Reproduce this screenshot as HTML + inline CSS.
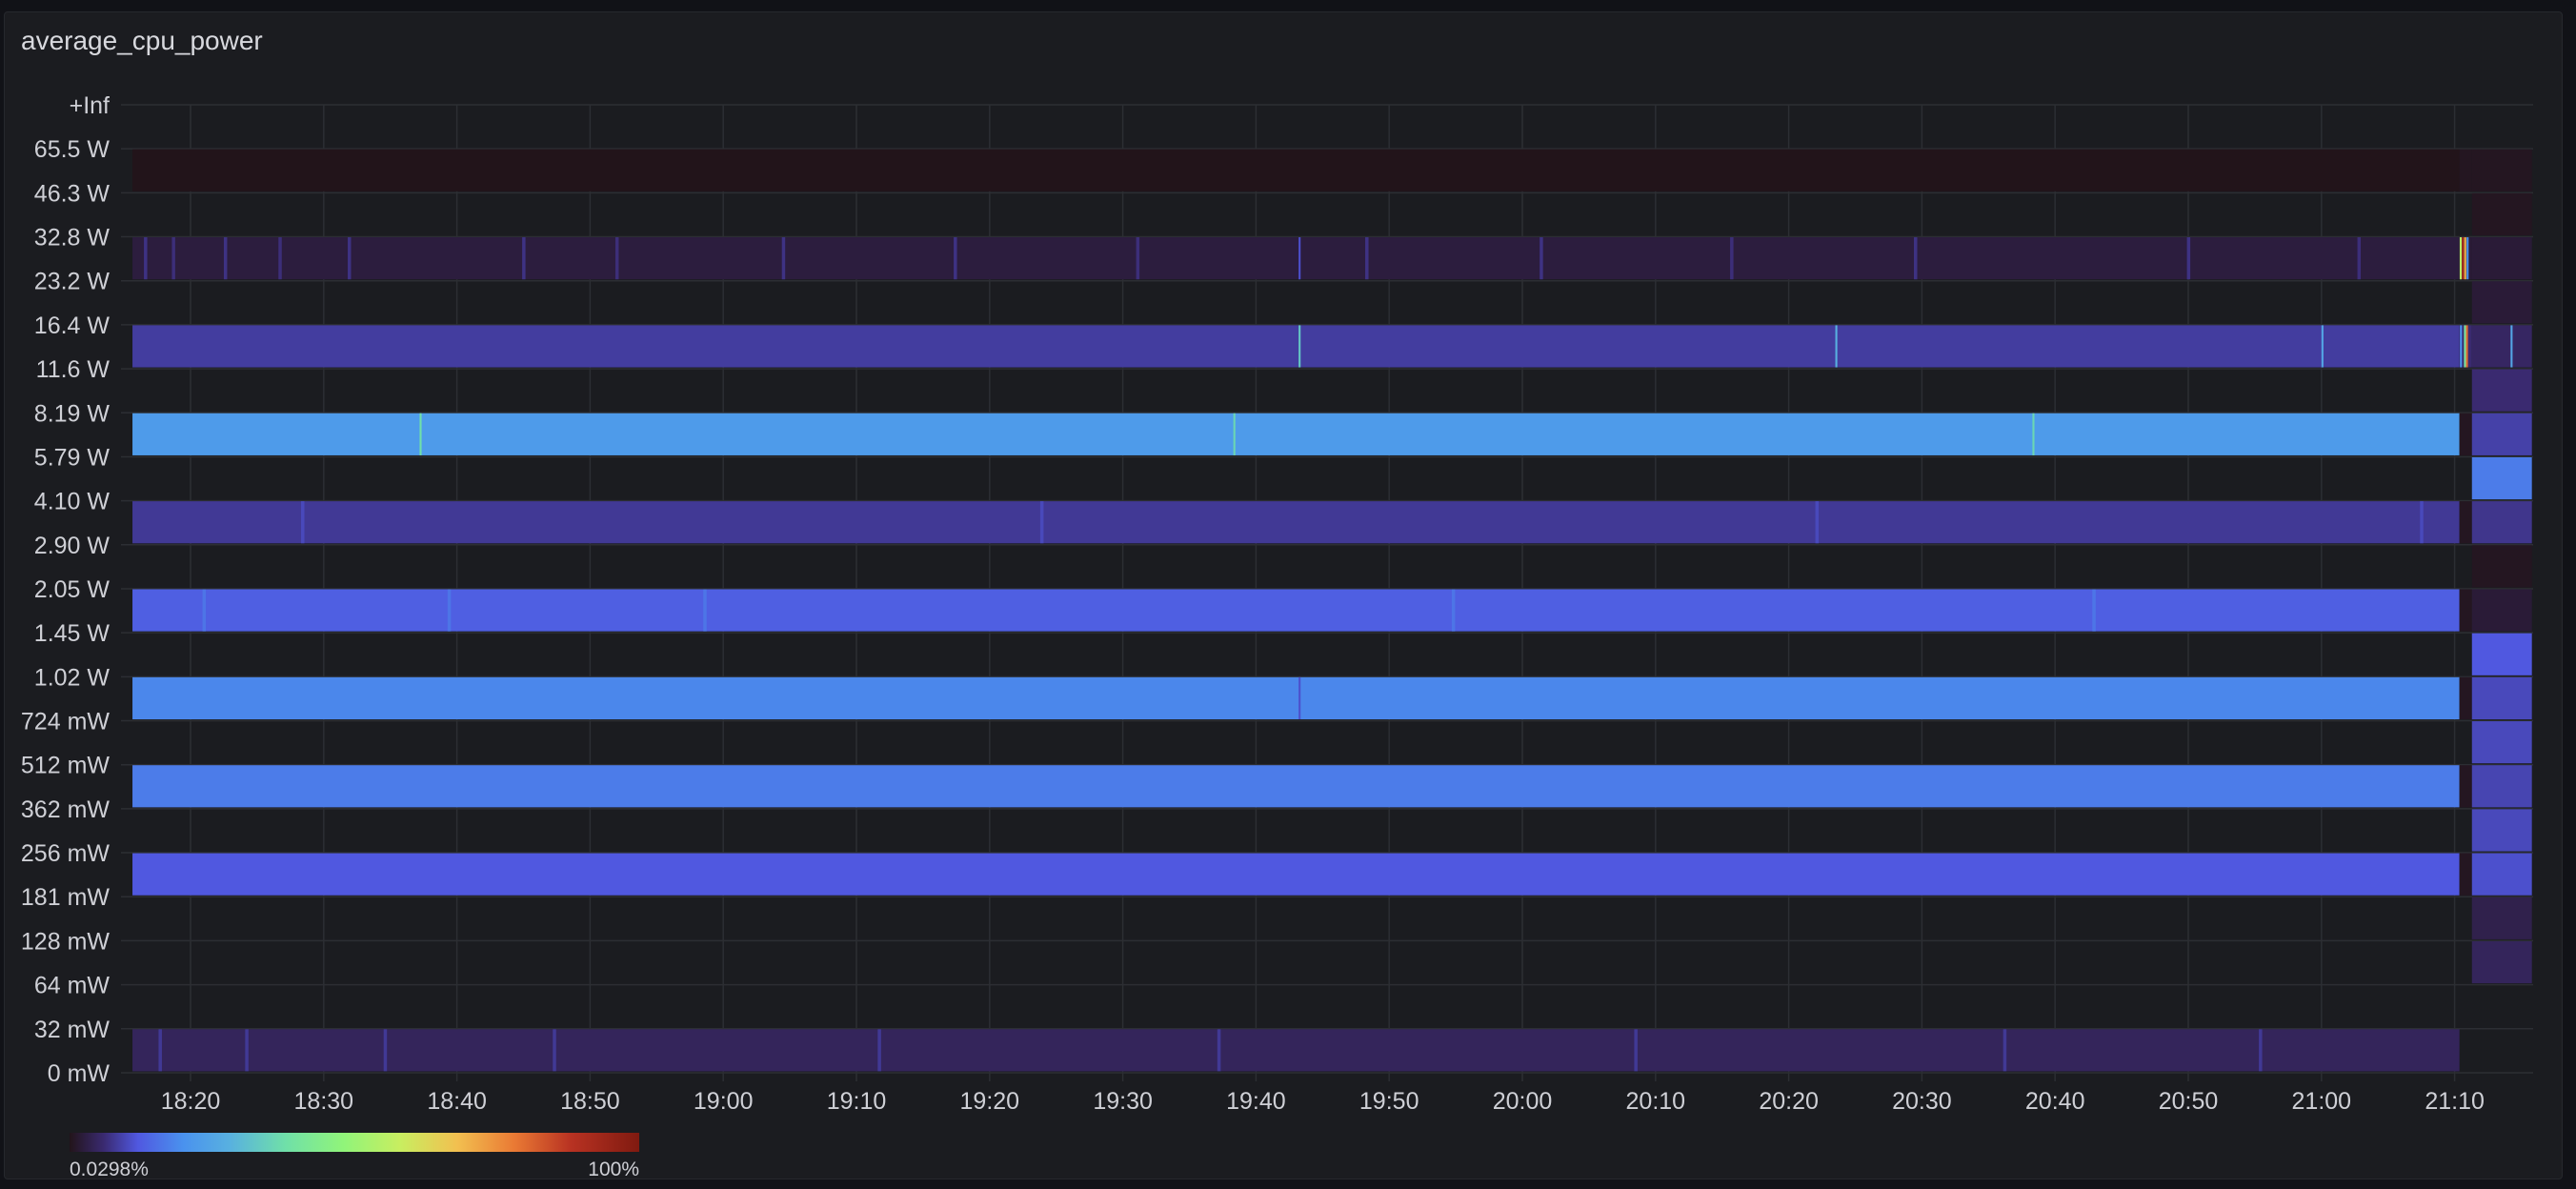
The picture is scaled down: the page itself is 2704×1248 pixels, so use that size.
<!DOCTYPE html>
<html><head><meta charset="utf-8"><style>
html,body{margin:0;padding:0;background:#111217;}
#wrap{position:relative;width:2704px;height:1248px;overflow:hidden;background:#111217;}
#panel{position:absolute;left:4px;top:12px;width:2686px;height:1226px;background:#1b1c20;border:1px solid #26282d;border-radius:4px;box-sizing:border-box;}
#title{position:absolute;left:22px;top:27px;font:500 28px "Liberation Sans",sans-serif;color:#d8d9de;}
svg{position:absolute;left:0;top:0;}
text{font-family:"Liberation Sans",sans-serif;fill:#cfd0d6;}
</style></head><body>
<div id="wrap">
<div id="panel"></div>
<div id="title">average_cpu_power</div>
<svg id="chart" width="2704" height="1248"></svg>
</div>
<script>
// ---- data ----
const yLabels = ["+Inf","65.5 W","46.3 W","32.8 W","23.2 W","16.4 W","11.6 W","8.19 W","5.79 W","4.10 W","2.90 W","2.05 W","1.45 W","1.02 W","724 mW","512 mW","362 mW","256 mW","181 mW","128 mW","64 mW","32 mW","0 mW"];
const xTicks = ["18:20","18:30","18:40","18:50","19:00","19:10","19:20","19:30","19:40","19:50","20:00","20:10","20:20","20:30","20:40","20:50","21:00","21:10"];
const xTickMinutes = [0,10,20,30,40,50,60,70,80,90,100,110,120,130,140,150,160,170];
// segments in minutes after 18:20
const segStart = [-4.36, 170.36, 171.3];
const segEnd   = [170.36, 171.3, 175.8];
// intensity (0..1) per bucket row (row 0 = +Inf..65.5 W), null = empty
const mainValues = [null,0.0,null,0.025,null,0.085,null,0.225,null,0.08,null,0.13,null,0.185,null,0.17,null,0.12,null,null,null,0.045];
const narrowValues = [null,0.005,null,0.02,null,0.06,null,0.005,null,0.005,null,0.005,null,0.005,null,0.005,null,0.005,null,null,null,null];
const lastValues = [null,0.005,0.005,0.02,0.02,0.05,0.06,0.09,0.17,0.075,0.005,0.02,0.12,0.1,0.1,0.095,0.1,0.11,0.035,0.045,null,null];
// notable spikes: minute, row, intensity
const spikeMinutes = [17.2,78.3,83.2,83.2,123.5,138.3,83.2,160,170.38,170.55,170.72,170.9,170.4,170.7,170.85,174.2];
const spikeRows    = [7,7,5,3,5,7,13,5,3,3,3,3,5,5,5,5];
const spikeValues  = [0.38,0.36,0.33,0.11,0.28,0.36,0.11,0.25,0.55,0.9,0.7,0.2,0.2,0.4,0.8,0.25];
// secondary stripes: minute, row, intensity
const stripeMinutes = [-3.5,-2.4,-1.4,0.9,2.5,4.1,6.6,8.3,11.8,14.5,19.3,24.9,27.2,31.9,38.5,44.4,51.6,57.3,63.8,71.0,77.1,88.2,94.7,101.3,108.4,115.6,122.0,129.4,136.1,142.8,149.9,155.3,162.7,167.4];
const stripeRows = [3,21,3,11,3,21,3,9,3,21,11,3,21,3,11,3,21,3,9,3,21,3,11,3,21,3,9,3,21,11,3,21,3,9];
const stripeValues=[0.07,0.08,0.065,0.16,0.07,0.08,0.065,0.1,0.07,0.08,0.16,0.07,0.08,0.065,0.16,0.07,0.08,0.07,0.1,0.065,0.08,0.07,0.16,0.07,0.08,0.065,0.1,0.07,0.08,0.16,0.07,0.08,0.065,0.1];
const legendMin = "0.0298%", legendMax = "100%";

// ---- scales ----
const X0 = 200, PXMIN = 13.98;
const x = m => X0 + m * PXMIN;
const Y0 = 110, ROWH = 46.18;
const y = i => Y0 + i * ROWH;
const PLOT_L = 127, PLOT_R = 2659;
const stops = [[0,"#22141a"],[0.06,"#3a2a70"],[0.12,"#5058e0"],[0.2,"#4a92ee"],[0.28,"#58b0e0"],[0.38,"#70e0a8"],[0.48,"#90f47a"],[0.58,"#c8ee60"],[0.68,"#f2c050"],[0.78,"#ea7a34"],[0.88,"#b83222"],[1,"#801a10"]];
function hex(h){return [1,3,5].map(i=>parseInt(h.substr(i,2),16));}
function color(v){
  for(let i=1;i<stops.length;i++){ if(v<=stops[i][0]){const a=stops[i-1],b=stops[i];const t=(v-a[0])/(b[0]-a[0]);const ca=hex(a[1]),cb=hex(b[1]);return "rgb("+ca.map((c,k)=>Math.round(c+(cb[k]-c)*t)).join(",")+")";}}
  return stops[stops.length-1][1];
}
const NS="http://www.w3.org/2000/svg";
const svg=document.getElementById("chart");
function mk(tag,attrs,parent){const e=document.createElementNS(NS,tag);for(const k in attrs)e.setAttribute(k,attrs[k]);(parent||svg).appendChild(e);return e;}

// grid
const grid=mk("g",{});


yLabels.forEach((l,i)=>{
  const ln=mk("line",{x1:PLOT_L,x2:PLOT_R,y1:y(i),y2:y(i),stroke:"#2c2e33","stroke-width":1.5},grid);
  
  
  const t=mk("text",{x:115,y:y(i)+9,"text-anchor":"end","font-size":25});
  t.textContent=l;
  
  
});
xTicks.forEach((l,i)=>{
  const xx=x(xTickMinutes[i]);
  const ln=mk("line",{x1:xx,x2:xx,y1:Y0,y2:y(yLabels.length-1)+9,stroke:"#2c2e33","stroke-width":1.5},grid);
  
  
  const t=mk("text",{x:xx,y:1164,"text-anchor":"middle","font-size":25});
  t.textContent=l;
  
  
});

// cells
const cells=mk("g",{});


function cell(m0,m1,row,v,name){
  const r=mk("rect",{x:x(m0),y:y(row)+0.5,width:Math.max(1,x(m1)-x(m0)),height:ROWH-2,fill:color(v)},cells);
  
  
}
const segVals=[mainValues,narrowValues,lastValues];
segVals.forEach((vals,s)=>{
  vals.forEach((v,row)=>{ if(v!==null) cell(segStart[s],segEnd[s],row,v,'heatmap-cell'); });
});
stripeMinutes.forEach((m,i)=>cell(m,m+0.25,stripeRows[i],stripeValues[i],'heatmap-stripe'));
spikeMinutes.forEach((m,i)=>cell(m,m+0.15,spikeRows[i],spikeValues[i],'heatmap-spike'));

// legend
const defs=mk("defs",{});
const lg=mk("linearGradient",{id:"lg",x1:0,x2:1,y1:0,y2:0},defs);
stops.forEach(s=>mk("stop",{offset:s[0],"stop-color":s[1]},lg));
const bar=mk("rect",{x:73,y:1189,width:598,height:20,fill:"url(#lg)"});


const lmin=mk("text",{x:73,y:1234,"font-size":21});
lmin.textContent=legendMin;


const lmax=mk("text",{x:671,y:1234,"font-size":21,"text-anchor":"end"});
lmax.textContent=legendMax;


</script>
</body></html>
